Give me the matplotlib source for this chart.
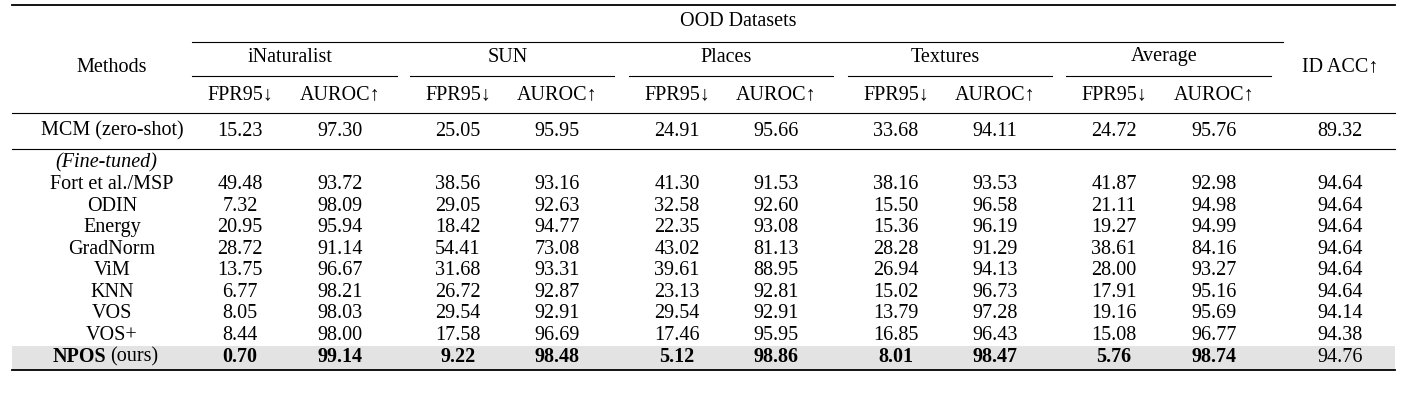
import matplotlib
matplotlib.use("Agg")
import matplotlib.pyplot as plt

methods = ["Fort et al./MSP", "ODIN", "Energy", "GradNorm", "ViM", "KNN", "VOS", "VOS+"]
values = [
    ["49.48", "93.72", "38.56", "93.16", "41.30", "91.53", "38.16", "93.53", "41.87", "92.98", "94.64"],
    ["7.32", "98.09", "29.05", "92.63", "32.58", "92.60", "15.50", "96.58", "21.11", "94.98", "94.64"],
    ["20.95", "95.94", "18.42", "94.77", "22.35", "93.08", "15.36", "96.19", "19.27", "94.99", "94.64"],
    ["28.72", "91.14", "54.41", "73.08", "43.02", "81.13", "28.28", "91.29", "38.61", "84.16", "94.64"],
    ["13.75", "96.67", "31.68", "93.31", "39.61", "88.95", "26.94", "94.13", "28.00", "93.27", "94.64"],
    ["6.77", "98.21", "26.72", "92.87", "23.13", "92.81", "15.02", "96.73", "17.91", "95.16", "94.64"],
    ["8.05", "98.03", "29.54", "92.91", "29.54", "92.91", "13.79", "97.28", "19.16", "95.69", "94.14"],
    ["8.44", "98.00", "17.58", "96.69", "17.46", "95.95", "16.85", "96.43", "15.08", "96.77", "94.38"],
]
mcm_values = ["15.23", "97.30", "25.05", "95.95", "24.91", "95.66", "33.68", "94.11", "24.72", "95.76", "89.32"]
npos_values = ["0.70", "99.14", "9.22", "98.48", "5.12", "98.86", "8.01", "98.47", "5.76", "98.74", "94.76"]
groups = ["iNaturalist", "SUN", "Places", "Textures", "Average"]
subheads = ["FPR95↓", "AUROC↑"]

W, H = 1405, 415
fig = plt.figure(figsize=(W / 100, H / 100), dpi=100)
ax = fig.add_axes([0, 0, 1, 1])
ax.set_xlim(0, W); ax.set_ylim(H, 0); ax.axis("off")
FAM = ["Liberation Serif", "DejaVu Serif"]
FS = 14.5
def t(x, y, s, **kw):
    kw.setdefault("ha", "center")
    ax.text(x, y, s, va="center", fontsize=FS, family=FAM, **kw)

colx = [240, 340, 458, 557, 677, 776, 896, 995, 1114, 1214, 1340]
mx = 112

ax.plot([12, 1395], [5, 5], color="k", lw=1.3)
ax.plot([192, 1283], [42, 42], color="k", lw=0.8)
for g in range(5):
    ax.plot([colx[2*g] - 48, colx[2*g+1] + 57], [76, 76], color="k", lw=0.8)
ax.plot([12, 1395], [113, 113], color="k", lw=0.8)
ax.plot([12, 1395], [149, 149], color="k", lw=0.8)
ax.add_patch(plt.Rectangle((12, 346), 1383, 23, color="#e3e3e3", lw=0))
ax.plot([12, 1395], [370, 370], color="k", lw=1.3)

t(738, 21, "OOD Datasets")
t(mx, 67, "Methods")
t(1340, 67, "ID ACC↑")
for g, name in enumerate(groups):
    t((colx[2*g] + colx[2*g+1]) / 2, 57, name)
    t(colx[2*g], 95, subheads[0]); t(colx[2*g+1], 95, subheads[1])

t(mx, 131, "MCM (zero-shot)")
for x, v in zip(colx, mcm_values):
    t(x, 131, v)
t(106, 163, "(Fine-tuned)", style="italic")
ys = [184, 206, 227, 249, 270, 292, 313, 335]
for y, m, row in zip(ys, methods, values):
    t(mx, y, m)
    for x, v in zip(colx, row):
        t(x, y, v)
y = 357
t(106, y, "NPOS", ha="right", weight="bold")
t(110, y, "(ours)", ha="left")
for i, (x, v) in enumerate(zip(colx, npos_values)):
    t(x, y, v, weight="bold" if i < 10 else "normal")

fig.savefig("out.png", dpi=100)
